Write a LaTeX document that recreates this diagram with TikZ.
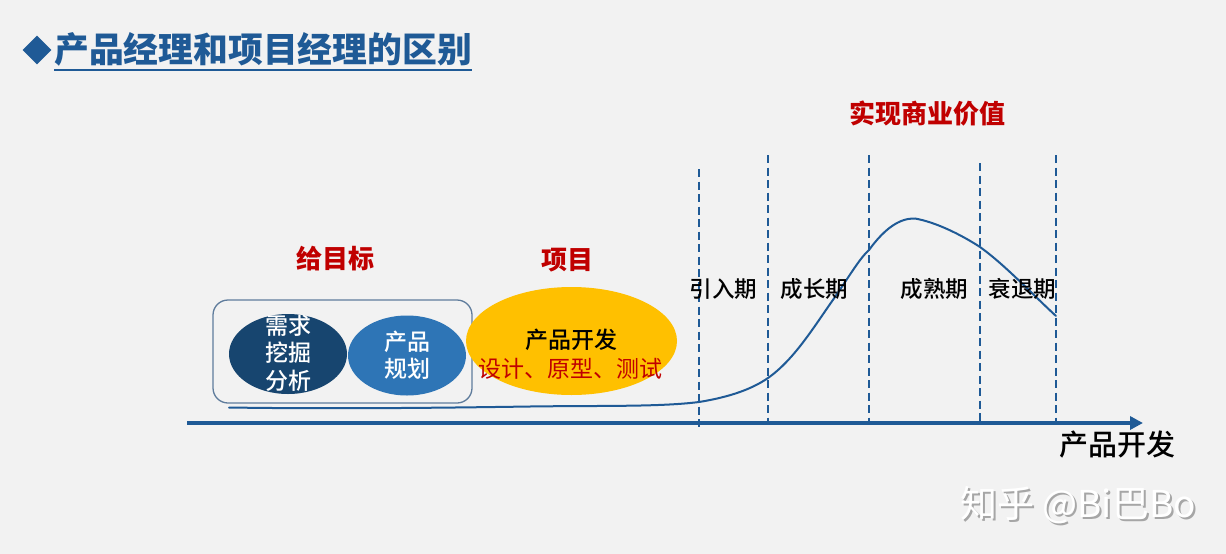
\documentclass[tikz,border=0pt]{standalone}
\usepackage{fontspec}
\setmainfont{Noto Sans CJK SC}
\newfontfamily\medcjk{Noto Sans CJK SC Medium}
\usepackage{tikz}
\usetikzlibrary{arrows.meta,positioning,calc,shapes.geometric}
\definecolor{pagegray}{HTML}{F2F2F2}
\definecolor{axisblue}{HTML}{1F5A96}
\definecolor{darkblue}{HTML}{17456F}
\definecolor{midblue}{HTML}{2E75B6}
\definecolor{boxblue}{HTML}{5F7C9C}
\definecolor{goldfill}{HTML}{FFC000}
\definecolor{headred}{HTML}{C00000}
\newcommand{\fs}[1]{\fontsize{#1}{#1}\selectfont}
\tikzstyle{heading}=[text=headred,font=\fs{26}\bfseries,inner sep=0pt]
\tikzstyle{phase}=[text=black,font=\fs{22.5}\medcjk,inner sep=0pt]
\tikzstyle{blob}=[ellipse,minimum width=118pt,minimum height=80pt,inner sep=0pt]
\tikzstyle{blobtext}=[text=white,align=center,inner sep=0pt,font=\fontsize{23}{27.5}\selectfont\medcjk]
\tikzstyle{divider}=[axisblue,line width=1.8pt,dash pattern=on 8pt off 4.5pt]
\tikzstyle{stamp}=[font=\fs{37},inner sep=0pt]
\begin{document}
\begin{tikzpicture}[x=1pt,y=-1pt]
\path[use as bounding box,fill=pagegray] (0,0) rectangle (1226,554);
\node [diamond,fill=axisblue,minimum width=29pt,minimum height=29pt,inner sep=0pt] (bullet) at (37,50) {};
\node [text=axisblue,font=\fs{34.8}\bfseries,inner sep=0pt] (title) at (263,49) {产品经理和项目经理的区别};
\coordinate (ruleleft) at (54,70);
\coordinate (ruleright) at (472,70);
\draw [axisblue,line width=2.5pt] (ruleleft) -- (ruleright);
\node [heading] (goal) at (335,259) {给目标};
\node [heading] (project) at (567,260) {项目};
\node [heading] (value) at (927,114) {实现商业价值};
\node [draw=boxblue,line width=1.3pt,rounded corners=15pt,minimum width=259pt,minimum height=103pt,inner sep=0pt] (group) at (342.5,351.5) {};
\node [blob,fill=darkblue] (mining) at (288,354) {};
\node [blob,fill=midblue] (planning) at (407,355.5) {};
\node [blobtext] (miningtext) at (288,353) {需求\\挖掘\\分析};
\node [blobtext] (planningtext) at (407,355) {产品\\规划};
\node [ellipse,fill=goldfill,minimum width=211pt,minimum height=108pt,inner sep=0pt] (develop) at (571.5,341) {};
\node [text=black,font=\fs{23}\medcjk,inner sep=0pt] (devtitle) at (571.5,340) {产品开发};
\node [text=headred,font=\fs{23},inner sep=0pt] (devsteps) at (570.5,369) {设计、原型、测试};
\coordinate (axisstart) at (187,423);
\coordinate (axisend) at (1143,423);
\foreach \name/\x/\top/\bottom in {a/699/169/429,b/768/155/423,c/869/155/423,d/980/163/423,e/1056/155/423}{
  \coordinate (top\name) at (\x,\top);
  \coordinate (bottom\name) at (\x,\bottom);
  \draw [divider] (top\name) -- (bottom\name);
}
\draw [axisblue,line width=4pt,-{Triangle[length=13pt,width=13pt]}] (axisstart) -- (axisend);
\draw [axisblue,line width=2pt,line cap=round] (229,407.5)
  .. controls (330,409) and (430,408) .. (530,406.5)
  .. controls (600,405.5) and (660,407) .. (699,402)
  .. controls (730,397) and (752,389) .. (768,378)
  .. controls (795,359) and (815,325) .. (835,297)
  .. controls (850,275) and (860,258) .. (869,250)
  .. controls (885,228) and (900,218) .. (915,218.5)
  .. controls (935,222) and (960,234) .. (980,247)
  .. controls (1005,265) and (1030,292) .. (1056,316);
\node [phase] (intro) at (723.5,289) {引入期};
\node [phase] (growth) at (814.5,289) {成长期};
\node [phase] (mature) at (934.5,289) {成熟期};
\node [phase] (decline) at (1022.5,289) {衰退期};
\node [text=black,font=\fs{29}\medcjk,inner sep=0pt] (axislabel) at (1117.5,445) {产品开发};
\node [stamp,text=black!35] (stampshadow) at (1080,507) {知乎 @Bi巴Bo};
\node [stamp,text=white] (stampfront) at (1078,505) {知乎 @Bi巴Bo};
\end{tikzpicture}
\end{document}
